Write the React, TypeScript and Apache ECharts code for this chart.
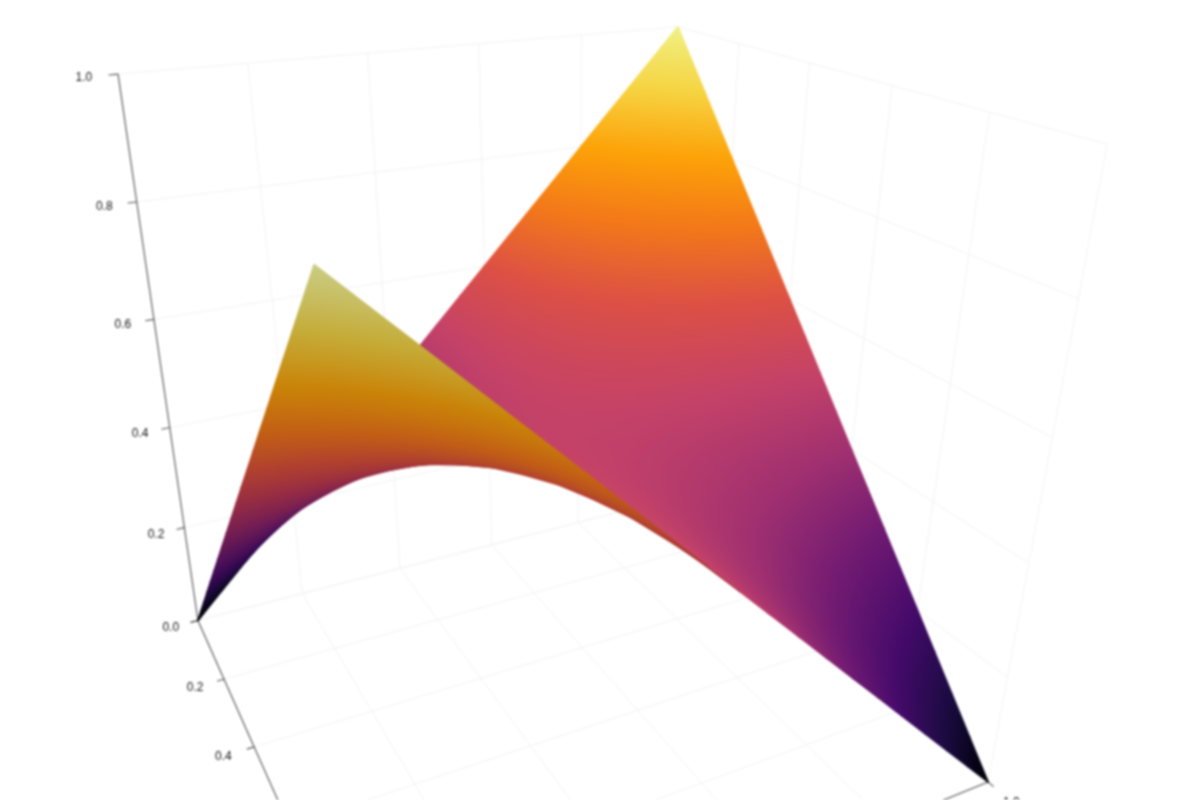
import React, { useEffect, useRef } from "react";
import * as echarts from "echarts";

const gridX = [0, 0.05, 0.1, 0.15, 0.2, 0.25, 0.3, 0.35, 0.4, 0.45, 0.5, 0.55, 0.6, 0.65, 0.7, 0.75, 0.8, 0.85, 0.9, 0.95, 1];
const gridY = [0, 0.05, 0.1, 0.15, 0.2, 0.25, 0.3, 0.35, 0.4, 0.45, 0.5, 0.55, 0.6, 0.65, 0.7, 0.75, 0.8, 0.85, 0.9, 0.95, 1];
const zRows = [
  [0, 0.05, 0.1, 0.15, 0.2, 0.25, 0.3, 0.35, 0.4, 0.45, 0.5, 0.55, 0.6, 0.65, 0.7, 0.75, 0.8, 0.85, 0.9, 0.95, 1],
  [0.05, 0.095, 0.14, 0.185, 0.23, 0.275, 0.32, 0.365, 0.41, 0.455, 0.5, 0.545, 0.59, 0.635, 0.68, 0.725, 0.77, 0.815, 0.86, 0.905, 0.95],
  [0.1, 0.14, 0.18, 0.22, 0.26, 0.3, 0.34, 0.38, 0.42, 0.46, 0.5, 0.54, 0.58, 0.62, 0.66, 0.7, 0.74, 0.78, 0.82, 0.86, 0.9],
  [0.15, 0.185, 0.22, 0.255, 0.29, 0.325, 0.36, 0.395, 0.43, 0.465, 0.5, 0.535, 0.57, 0.605, 0.64, 0.675, 0.71, 0.745, 0.78, 0.815, 0.85],
  [0.2, 0.23, 0.26, 0.29, 0.32, 0.35, 0.38, 0.41, 0.44, 0.47, 0.5, 0.53, 0.56, 0.59, 0.62, 0.65, 0.68, 0.71, 0.74, 0.77, 0.8],
  [0.25, 0.275, 0.3, 0.325, 0.35, 0.375, 0.4, 0.425, 0.45, 0.475, 0.5, 0.525, 0.55, 0.575, 0.6, 0.625, 0.65, 0.675, 0.7, 0.725, 0.75],
  [0.3, 0.32, 0.34, 0.36, 0.38, 0.4, 0.42, 0.44, 0.46, 0.48, 0.5, 0.52, 0.54, 0.56, 0.58, 0.6, 0.62, 0.64, 0.66, 0.68, 0.7],
  [0.35, 0.365, 0.38, 0.395, 0.41, 0.425, 0.44, 0.455, 0.47, 0.485, 0.5, 0.515, 0.53, 0.545, 0.56, 0.575, 0.59, 0.605, 0.62, 0.635, 0.65],
  [0.4, 0.41, 0.42, 0.43, 0.44, 0.45, 0.46, 0.47, 0.48, 0.49, 0.5, 0.51, 0.52, 0.53, 0.54, 0.55, 0.56, 0.57, 0.58, 0.59, 0.6],
  [0.45, 0.455, 0.46, 0.465, 0.47, 0.475, 0.48, 0.485, 0.49, 0.495, 0.5, 0.505, 0.51, 0.515, 0.52, 0.525, 0.53, 0.535, 0.54, 0.545, 0.55],
  [0.5, 0.5, 0.5, 0.5, 0.5, 0.5, 0.5, 0.5, 0.5, 0.5, 0.5, 0.5, 0.5, 0.5, 0.5, 0.5, 0.5, 0.5, 0.5, 0.5, 0.5],
  [0.55, 0.545, 0.54, 0.535, 0.53, 0.525, 0.52, 0.515, 0.51, 0.505, 0.5, 0.495, 0.49, 0.485, 0.48, 0.475, 0.47, 0.465, 0.46, 0.455, 0.45],
  [0.6, 0.59, 0.58, 0.57, 0.56, 0.55, 0.54, 0.53, 0.52, 0.51, 0.5, 0.49, 0.48, 0.47, 0.46, 0.45, 0.44, 0.43, 0.42, 0.41, 0.4],
  [0.65, 0.635, 0.62, 0.605, 0.59, 0.575, 0.56, 0.545, 0.53, 0.515, 0.5, 0.485, 0.47, 0.455, 0.44, 0.425, 0.41, 0.395, 0.38, 0.365, 0.35],
  [0.7, 0.68, 0.66, 0.64, 0.62, 0.6, 0.58, 0.56, 0.54, 0.52, 0.5, 0.48, 0.46, 0.44, 0.42, 0.4, 0.38, 0.36, 0.34, 0.32, 0.3],
  [0.75, 0.725, 0.7, 0.675, 0.65, 0.625, 0.6, 0.575, 0.55, 0.525, 0.5, 0.475, 0.45, 0.425, 0.4, 0.375, 0.35, 0.325, 0.3, 0.275, 0.25],
  [0.8, 0.77, 0.74, 0.71, 0.68, 0.65, 0.62, 0.59, 0.56, 0.53, 0.5, 0.47, 0.44, 0.41, 0.38, 0.35, 0.32, 0.29, 0.26, 0.23, 0.2],
  [0.85, 0.815, 0.78, 0.745, 0.71, 0.675, 0.64, 0.605, 0.57, 0.535, 0.5, 0.465, 0.43, 0.395, 0.36, 0.325, 0.29, 0.255, 0.22, 0.185, 0.15],
  [0.9, 0.86, 0.82, 0.78, 0.74, 0.7, 0.66, 0.62, 0.58, 0.54, 0.5, 0.46, 0.42, 0.38, 0.34, 0.3, 0.26, 0.22, 0.18, 0.14, 0.1],
  [0.95, 0.905, 0.86, 0.815, 0.77, 0.725, 0.68, 0.635, 0.59, 0.545, 0.5, 0.455, 0.41, 0.365, 0.32, 0.275, 0.23, 0.185, 0.14, 0.095, 0.05],
  [1, 0.95, 0.9, 0.85, 0.8, 0.75, 0.7, 0.65, 0.6, 0.55, 0.5, 0.45, 0.4, 0.35, 0.3, 0.25, 0.2, 0.15, 0.1, 0.05, 0],
];
const tickValues = [0, 0.2, 0.4, 0.6, 0.8, 1];
const tickLabels = ["0.0", "0.2", "0.4", "0.6", "0.8", "1.0"];
const frontColors = ["#000004", "#1a0b40", "#440a6a", "#701a72", "#a03070", "#c44268", "#dc5045", "#f37819", "#fda208", "#f6d442", "#f0f184"];
const backColors = ["#000004", "#160b39", "#420a68", "#6a176e", "#932667", "#bc3754", "#dd513a", "#f37819", "#fca50a", "#f6d746", "#fcffa4"];

// camera: 3x4 projection from data space to page pixels
const M = [572.7613, 56.14509, -101.3173, 197.9308, -34.15698, 68.08075, -559.7616, 620.4326, 0.1689643, -0.3320851, -0.1815618];
const project = (x: number, y: number, z: number) => {
  const w = M[8] * x + M[9] * y + M[10] * z + 1;
  return [(M[0] * x + M[1] * y + M[2] * z + M[3]) / w, (M[4] * x + M[5] * y + M[6] * z + M[7]) / w, w];
};
const hex = (s: string) => [1, 3, 5].map((k) => parseInt(s.slice(k, k + 2), 16));
const colorAt = (t: number, back: boolean) => {
  const palette = back ? backColors : frontColors;
  const dim = back ? 0.8 : 1;
  const s = Math.max(0, Math.min(1, t)) * (palette.length - 1);
  const a = Math.min(Math.floor(s), palette.length - 2);
  const f = s - a;
  const c0 = hex(palette[a]), c1 = hex(palette[a + 1]);
  return `rgb(${[0, 1, 2].map((k) => Math.round((c0[k] + (c1[k] - c0[k]) * f) * dim)).join(",")})`;
};

type Tri = number[];
const tris: Tri[] = [];
for (let i = 0; i < gridX.length - 1; i++) {
  for (let j = 0; j < gridY.length - 1; j++) {
    tris.push([i, j, i + 1, j, i + 1, j + 1]);
    tris.push([i, j, i + 1, j + 1, i, j + 1]);
  }
}
const depth = (t: Tri) => {
  let d = 0;
  for (let k = 0; k < 3; k++) d += project(gridX[t[2 * k]], gridY[t[2 * k + 1]], zRows[t[2 * k]][t[2 * k + 1]])[2];
  return d;
};
tris.sort((a, b) => depth(b) - depth(a));

// [x1,y1,z1,x2,y2,z2,isAxis]
const lines: number[][] = [];
for (const t of tickValues) {
  lines.push([t, 0, 0, t, 1, 0, 0], [0, t, 0, 1, t, 0, 0]);
  lines.push([t, 0, 0, t, 0, 1, 0], [0, 0, t, 1, 0, t, 0]);
  lines.push([1, t, 0, 1, t, 1, 0], [1, 0, t, 1, 1, t, 0]);
}
lines.push([0, 0, 0, 0, 0, 1, 1], [0, 0, 0, 0, 1, 0, 1], [0, 1, 0, 1, 1, 0, 1]);
for (const t of tickValues) {
  lines.push([0, 0, t, -0.014, 0, t, 1], [0, t, 0, -0.012, t, 0, 1], [t, 1, 0, t, 1.012, 0, 1]);
}
// tick labels sit just outside their axis, in data space: [x,y,z,labelIndex]
const labels: number[][] = [
  [-0.05, 0, 0, 0], [-0.05, 0, 0.2, 1], [-0.05, 0, 0.4, 2], [-0.05, 0, 0.6, 3], [-0.05, 0, 0.8, 4], [-0.05, 0, 1, 5],
  [-0.05, 0.2, 0, 1], [-0.05, 0.4, 0, 2],
  [1, 1.05, 0, 5],
];

export default function App() {
  const ref = useRef<HTMLDivElement>(null);
  useEffect(() => {
    document.body.style.margin = "0";
    const chart = echarts.init(ref.current!, undefined, { renderer: "svg" });
    const at = (api: any, x: number, y: number, z: number) => {
      const p = project(x, y, z);
      return api.coord([p[0], p[1]]);
    };
    chart.setOption({
      animation: false,
      backgroundColor: "#fff",
      grid: { left: 0, right: 0, top: 0, bottom: 0 },
      xAxis: { type: "value", min: 0, max: 1200, show: false },
      yAxis: { type: "value", min: 0, max: 800, inverse: true, show: false },
      series: [
        {
          type: "custom", silent: true, z: 1, clip: false, data: lines,
          renderItem: (_: any, api: any) => {
            const a = at(api, api.value(0), api.value(1), api.value(2));
            const b = at(api, api.value(3), api.value(4), api.value(5));
            const axis = api.value(6) === 1;
            return { type: "line", z2: axis ? 2 : 1, shape: { x1: a[0], y1: a[1], x2: b[0], y2: b[1] }, style: { stroke: axis ? "#555555" : "#f3f3f3", lineWidth: axis ? 1.1 : 1 } };
          },
        },
        {
          type: "custom", silent: true, z: 2, clip: false, data: tris,
          renderItem: (_: any, api: any) => {
            const ids = [0, 1, 2].map((k) => [api.value(2 * k), api.value(2 * k + 1)]);
            const pts = ids.map(([i, j]) => at(api, gridX[i], gridY[j], zRows[i][j]));
            const zs = ids.map(([i, j]) => zRows[i][j]);
            const cross = (pts[1][0] - pts[0][0]) * (pts[2][1] - pts[0][1]) - (pts[1][1] - pts[0][1]) * (pts[2][0] - pts[0][0]);
            const back = cross < 0;
            const det = cross || 1e-9;
            const e1 = [pts[1][0] - pts[0][0], pts[1][1] - pts[0][1], zs[1] - zs[0]];
            const e2 = [pts[2][0] - pts[0][0], pts[2][1] - pts[0][1], zs[2] - zs[0]];
            const gx = (e1[2] * e2[1] - e2[2] * e1[1]) / det;
            const gy = (e2[2] * e1[0] - e1[2] * e2[0]) / det;
            const g2 = gx * gx + gy * gy;
            const lo = zs.indexOf(Math.min(...zs));
            const zLo = zs[lo], zHi = Math.max(...zs);
            let fill: any;
            if (g2 < 1e-14 || zHi - zLo < 1e-9) {
              fill = colorAt(zLo, back);
            } else {
              const L = (zHi - zLo) / g2;
              const stops = [0, 0.25, 0.5, 0.75, 1].map((o) => ({ offset: o, color: colorAt(zLo + (zHi - zLo) * o, back) }));
              fill = new echarts.graphic.LinearGradient(pts[lo][0], pts[lo][1], pts[lo][0] + gx * L, pts[lo][1] + gy * L, stops, true);
            }
            // sliver triangles at the fold change colour very fast: keep their edge thin
            const steep = Math.sqrt(g2) > 0.03;
            return { type: "polygon", shape: { points: pts }, style: { fill, stroke: fill, lineWidth: steep ? 0.6 : 1.6, lineJoin: "round" } };
          },
        },
        {
          type: "custom", silent: true, z: 3, clip: false, data: labels,
          renderItem: (_: any, api: any) => {
            const p = at(api, api.value(0), api.value(1), api.value(2));
            return {
              type: "text",
              style: {
                x: p[0], y: p[1], text: tickLabels[api.value(3)],
                fill: "#111111", fontSize: 12, fontFamily: "Liberation Sans", textAlign: "center", textVerticalAlign: "middle", align: "center", verticalAlign: "middle",
              },
            };
          },
        },
      ],
    });
    return () => chart.dispose();
  }, []);
  return <div ref={ref} style={{ position: "fixed", left: 0, top: 0, width: 1200, height: 800, filter: "blur(0.85px)" }} />;
}
